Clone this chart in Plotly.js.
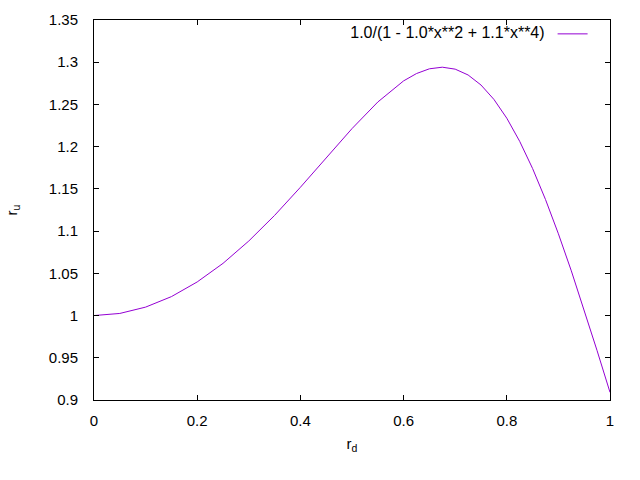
<!DOCTYPE html>
<html>
<head>
<meta charset="utf-8">
<script src="https://cdn.plot.ly/plotly-3.0.1.min.js"></script>
<style>html,body{margin:0;padding:0;background:#fff}#plot{width:640px;height:480px}</style>
</head>
<body>
<div id="plot"></div>
<script>
const xValues = [0, 0.05, 0.1, 0.15, 0.2, 0.25, 0.3, 0.35, 0.4, 0.45, 0.5, 0.55, 0.6, 0.625, 0.65, 0.675, 0.7, 0.725, 0.75, 0.775, 0.8, 0.825, 0.85, 0.875, 0.9, 0.925, 0.95, 0.975, 1.0];
const yValues = [1.0, 1.0025, 1.0100, 1.0224, 1.0398, 1.0618, 1.0883, 1.1186, 1.1519, 1.1868, 1.2214, 1.2529, 1.2779, 1.2866, 1.2922, 1.2941, 1.2918, 1.2849, 1.2730, 1.2560, 1.2337, 1.2063, 1.1741, 1.1374, 1.0968, 1.0530, 1.0066, 0.9584, 0.9091];
const seriesName = "1.0/(1 - 1.0*x**2 + 1.1*x**4)";
const xTicks = [0, 0.2, 0.4, 0.6, 0.8, 1];
const xTickLabels = ["0", "0.2", "0.4", "0.6", "0.8", "1"];
const yTicks = [0.9, 0.95, 1, 1.05, 1.1, 1.15, 1.2, 1.25, 1.3, 1.35];
const yTickLabels = ["0.9", "0.95", "1", "1.05", "1.1", "1.15", "1.2", "1.25", "1.3", "1.35"];

const font = {family: "Liberation Sans, Arial, sans-serif", size: 15, color: "#000"};
const legendFont = {family: "Liberation Sans, Arial, sans-serif", size: 16, color: "#000"};

const trace = {
  x: xValues, y: yValues, type: "scatter", mode: "lines",
  name: " ", line: {color: "#9400D3", width: 1},
  showlegend: true
};

const axisCommon = {
  showline: true, linecolor: "#000", linewidth: 1, mirror: "ticks",
  ticks: "inside", ticklen: 5, tickcolor: "#000", tickwidth: 1,
  showgrid: false, zeroline: false, tickfont: font, automargin: false
};

const layout = {
  width: 640, height: 480,
  margin: {l: 94, r: 30, t: 20, b: 80},
  paper_bgcolor: "#fff", plot_bgcolor: "#fff",
  font: font,
  xaxis: Object.assign({}, axisCommon, {
    range: [0, 1], tickvals: xTicks, ticktext: xTickLabels,
    ticklabelstandoff: 7,
    title: {text: "r<sub>d</sub>", font: font, standoff: 10}
  }),
  yaxis: Object.assign({}, axisCommon, {
    range: [0.9, 1.35], tickvals: yTicks, ticktext: yTickLabels,
    ticklabelstandoff: 12,
    title: {text: "r<sub>u</sub>", font: font, standoff: 27}
  }),
  legend: {
    x: 0.985, xanchor: "right", y: 1.008, yanchor: "top",
    bgcolor: "rgba(0,0,0,0)", borderwidth: 0,
    orientation: "h",
    title: {text: seriesName, side: "left", font: legendFont},
    font: legendFont
  }
};

Plotly.newPlot("plot", [trace], layout, {displayModeBar: false, staticPlot: true});
</script>
</body>
</html>
